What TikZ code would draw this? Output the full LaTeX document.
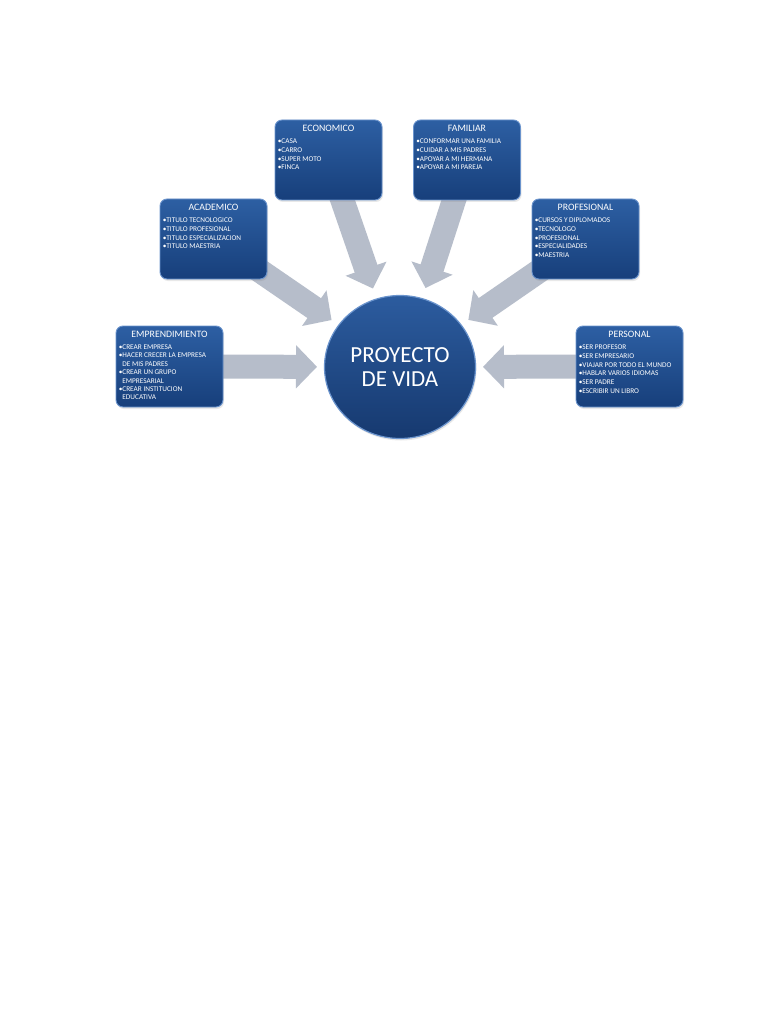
\documentclass[tikz,border=0pt]{standalone}
\usepackage{fontspec}
\setmainfont{Carlito}
\usetikzlibrary{arrows.meta,shapes.geometric,calc,backgrounds,shadows}
\definecolor{boxtop}{HTML}{2D5FA3}
\definecolor{boxbot}{HTML}{173F7B}
\definecolor{boxline}{HTML}{6B94CD}
\definecolor{coretop}{HTML}{2C5C9F}
\definecolor{corebot}{HTML}{16396F}
\definecolor{arrowgray}{HTML}{B6BDCA}
\tikzset{
  infobox/.style={rectangle, rounded corners=7pt, minimum width=107pt, minimum height=80pt,
    inner sep=0pt, top color=boxtop, bottom color=boxbot, draw=boxline, line width=0.9pt,
    drop shadow={opacity=0.18, shadow xshift=1pt, shadow yshift=-2pt}},
  boxtitle/.style={anchor=base, inner sep=0pt, text=white, font=\fontsize{9.8}{11}\selectfont},
  boxitems/.style={anchor=north west, inner sep=0pt, text=white, align=left,
    font=\fontsize{7.3}{8.8}\selectfont},
  bigarrow/.style={color=arrowgray, line width=24pt, -{Triangle[width=42pt,length=21pt]},
    shorten >=83pt},
  core/.style={ellipse, minimum width=151pt, minimum height=143pt, inner sep=0pt,
    top color=coretop, bottom color=corebot, draw=boxline, line width=1.2pt,
    drop shadow={opacity=0.18, shadow xshift=1pt, shadow yshift=-2pt},
    text=white, align=center, font=\fontsize{23}{24}\selectfont}
}
\begin{document}
\begin{tikzpicture}[x=1pt,y=-1pt]
\useasboundingbox (0,0) rectangle (768,1024);
% boxes
\node[infobox] (econ) at (328.5,160) {};
\node[infobox] (fam)  at (467,160) {};
\node[infobox] (acad) at (213.5,239) {};
\node[infobox] (prof) at (585.5,239) {};
\node[infobox, minimum height=81pt] (emp) at (169.5,366.5) {};
\node[infobox, minimum height=81pt] (pers) at (629.5,366.5) {};
\node[core] (vida) at (400,367) {PROYECTO\\DE VIDA};
% titles
\node[boxtitle] (econt) at ($(econ.north)+(0,12)$) {ECONOMICO};
\node[boxtitle] (famt)  at ($(fam.north)+(0,12)$) {FAMILIAR};
\node[boxtitle] (acadt) at ($(acad.north)+(0,12)$) {ACADEMICO};
\node[boxtitle] (proft) at ($(prof.north)+(0,12)$) {PROFESIONAL};
\node[boxtitle] (empt)  at ($(emp.north)+(0,12)$) {EMPRENDIMIENTO};
\node[boxtitle] (perst) at ($(pers.north)+(0,12)$) {PERSONAL};
% items
\node[boxitems] (econi) at ($(econ.north west)+(3,19)$) {•CASA\\•CARRO\\•SUPER MOTO\\•FINCA};
\node[boxitems] (fami) at ($(fam.north west)+(3,19)$) {•CONFORMAR UNA FAMILIA\\•CUIDAR A MIS PADRES\\•APOYAR A MI HERMANA\\•APOYAR A MI PAREJA};
\node[boxitems] (acadi) at ($(acad.north west)+(3,19)$) {•TITULO TECNOLOGICO\\•TITULO PROFESIONAL\\•TITULO ESPECIALIZACION\\•TITULO MAESTRIA};
\node[boxitems] (profi) at ($(prof.north west)+(3,19)$) {•CURSOS Y DIPLOMADOS\\•TECNOLOGO\\•PROFESIONAL\\•ESPECIALIDADES\\•MAESTRIA};
\node[boxitems, font=\fontsize{7.3}{8.4}\selectfont] (empi) at ($(emp.north west)+(3,19)$) {•CREAR EMPRESA\\•HACER CRECER LA EMPRESA\\\hphantom{•}DE MIS PADRES\\•CREAR UN GRUPO\\\hphantom{•}EMPRESARIAL\\•CREAR INSTITUCION\\\hphantom{•}EDUCATIVA};
\node[boxitems] (persi) at ($(pers.north west)+(3,19)$) {•SER PROFESOR\\•SER EMPRESARIO\\•VIAJAR POR TODO EL MUNDO\\•HABLAR VARIOS IDIOMAS\\•SER PADRE\\•ESCRIBIR UN LIBRO};
% arrows behind
\begin{scope}[on background layer]
\fill[white] (0,0) rectangle (768,1024);
\draw[bigarrow] (econ.center) -- (vida.center);
\draw[bigarrow] (fam.center) -- (vida.center);
\draw[bigarrow] (acad.center) -- (vida.center);
\draw[bigarrow] (prof.center) -- (vida.center);
\draw[bigarrow] (emp.center) -- (vida.center);
\draw[bigarrow] (pers.center) -- (vida.center);
\end{scope}
\end{tikzpicture}
\end{document}
